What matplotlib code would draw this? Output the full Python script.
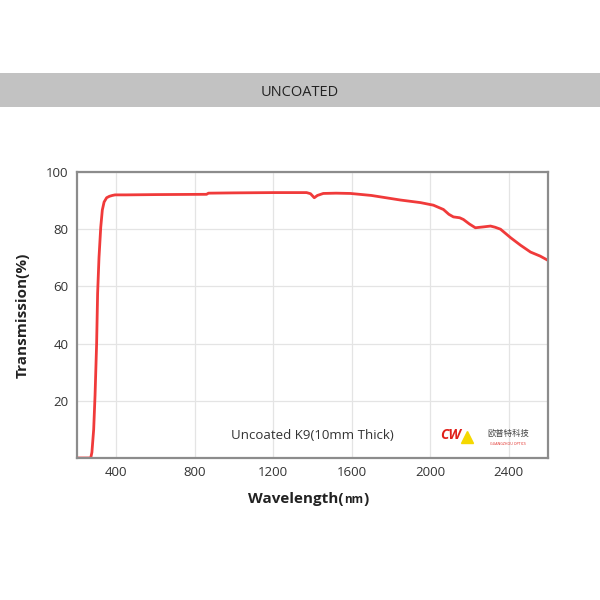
import matplotlib.pyplot as plt

plt.rcParams['font.family'] = ['Open Sans', 'DejaVu Sans']

# transmission curve of uncoated K9, 10 mm thick
wavelength = [200, 270, 276, 285, 292, 300, 305, 312, 321, 329, 338, 351, 365, 380, 394, 450,
              600, 860, 870, 1000, 1200, 1370, 1390, 1409, 1425, 1455, 1520, 1593, 1700,
              1848, 1950, 2016, 2067, 2095, 2118, 2150, 2169, 2200, 2230, 2270, 2307, 2330,
              2358, 2410, 2460, 2511, 2560, 2600]
transmission = [0, 0, 2, 10, 22, 40, 57.5, 70, 80.7, 86.7, 89.5, 91, 91.5, 91.8, 92, 92,
                92.1, 92.2, 92.6, 92.7, 92.8, 92.8, 92.4, 91.0, 91.8, 92.5, 92.6, 92.5, 91.8,
                90.2, 89.3, 88.4, 86.9, 85.2, 84.3, 84.0, 83.4, 81.8, 80.5, 80.8, 81.1, 80.7,
                80.0, 77.0, 74.4, 72.0, 70.6, 69.1]

xticks = [400, 800, 1200, 1600, 2000, 2400]
yticks = [20, 40, 60, 80, 100]

fig = plt.figure(figsize=(6, 6), dpi=100)

# grey title band
fig.patches.append(plt.Rectangle((0, 1 - 107 / 600), 1, 34 / 600, transform=fig.transFigure,
                                 facecolor='#c2c2c2', edgecolor='none'))
fig.text(0.5, 1 - 92 / 600, 'UNCOATED', ha='center', va='center', fontsize=10.5, color='#222222')

ax = fig.add_axes([77 / 600, 1 - 458 / 600, 471 / 600, 286 / 600])
ax.plot(wavelength, transmission, color='#f03a3a', lw=2)
ax.set_xlim(200, 2600)
ax.set_ylim(0, 100)
ax.set_xticks(xticks)
ax.set_yticks(yticks)
ax.grid(True, color='#e4e4e4', lw=0.9)
ax.set_axisbelow(True)
ax.tick_params(length=0, labelsize=9.5, labelcolor='#333333', pad=6)
for s in ax.spines.values():
    s.set_color('#8c8c8c')
    s.set_linewidth(1.6)

ax.set_ylabel('Transmission(%)', fontsize=11, fontweight='bold', color='#222222', labelpad=12)

# x label with a smaller "nm", pieces chained one after another
t1 = fig.text(248 / 600, 1 - 503 / 600, 'Wavelength(', ha='left', va='baseline', fontsize=11,
              fontweight='bold', color='#222222')
t2 = fig.text(0, 0, 'nm', fontsize=8.5, fontweight='bold', color='#222222')
t3 = fig.text(0, 0, ')', fontsize=11, fontweight='bold', color='#222222')
fig.canvas.draw()
r = fig.canvas.get_renderer()
bb1 = t1.get_window_extent(r).transformed(fig.transFigure.inverted())
t2.set_position((bb1.x1 + 0.001, 1 - 503 / 600))
t2.set_va('baseline')
fig.canvas.draw()
bb2 = t2.get_window_extent(r).transformed(fig.transFigure.inverted())
t3.set_position((bb2.x1 + 0.001, 1 - 503 / 600))
t3.set_va('baseline')

ax.text(0.5, 0.08, 'Uncoated K9(10mm Thick)', transform=ax.transAxes, ha='center', va='center',
        fontsize=9.5, color='#333333')

# company logo
ax.plot([0.828], [0.072], marker='^', markersize=8, color='#f5d800', transform=ax.transAxes,
        clip_on=False, zorder=1)
ax.text(0.793, 0.08, 'CW', transform=ax.transAxes, ha='center', va='center', fontsize=10,
        fontweight='bold', fontstyle='italic', color='#e0201a', zorder=3)
ax.text(0.915, 0.085, '欧普特科技', transform=ax.transAxes, ha='center', va='center', fontsize=6,
        color='#444444', family=['Noto Sans CJK SC', 'DejaVu Sans'])
ax.text(0.915, 0.05, 'GUANGZHOU OPTICS', transform=ax.transAxes, ha='center', va='center',
        fontsize=2.5, color='#e0201a')

fig.savefig('out.png', dpi=100, facecolor='white')
